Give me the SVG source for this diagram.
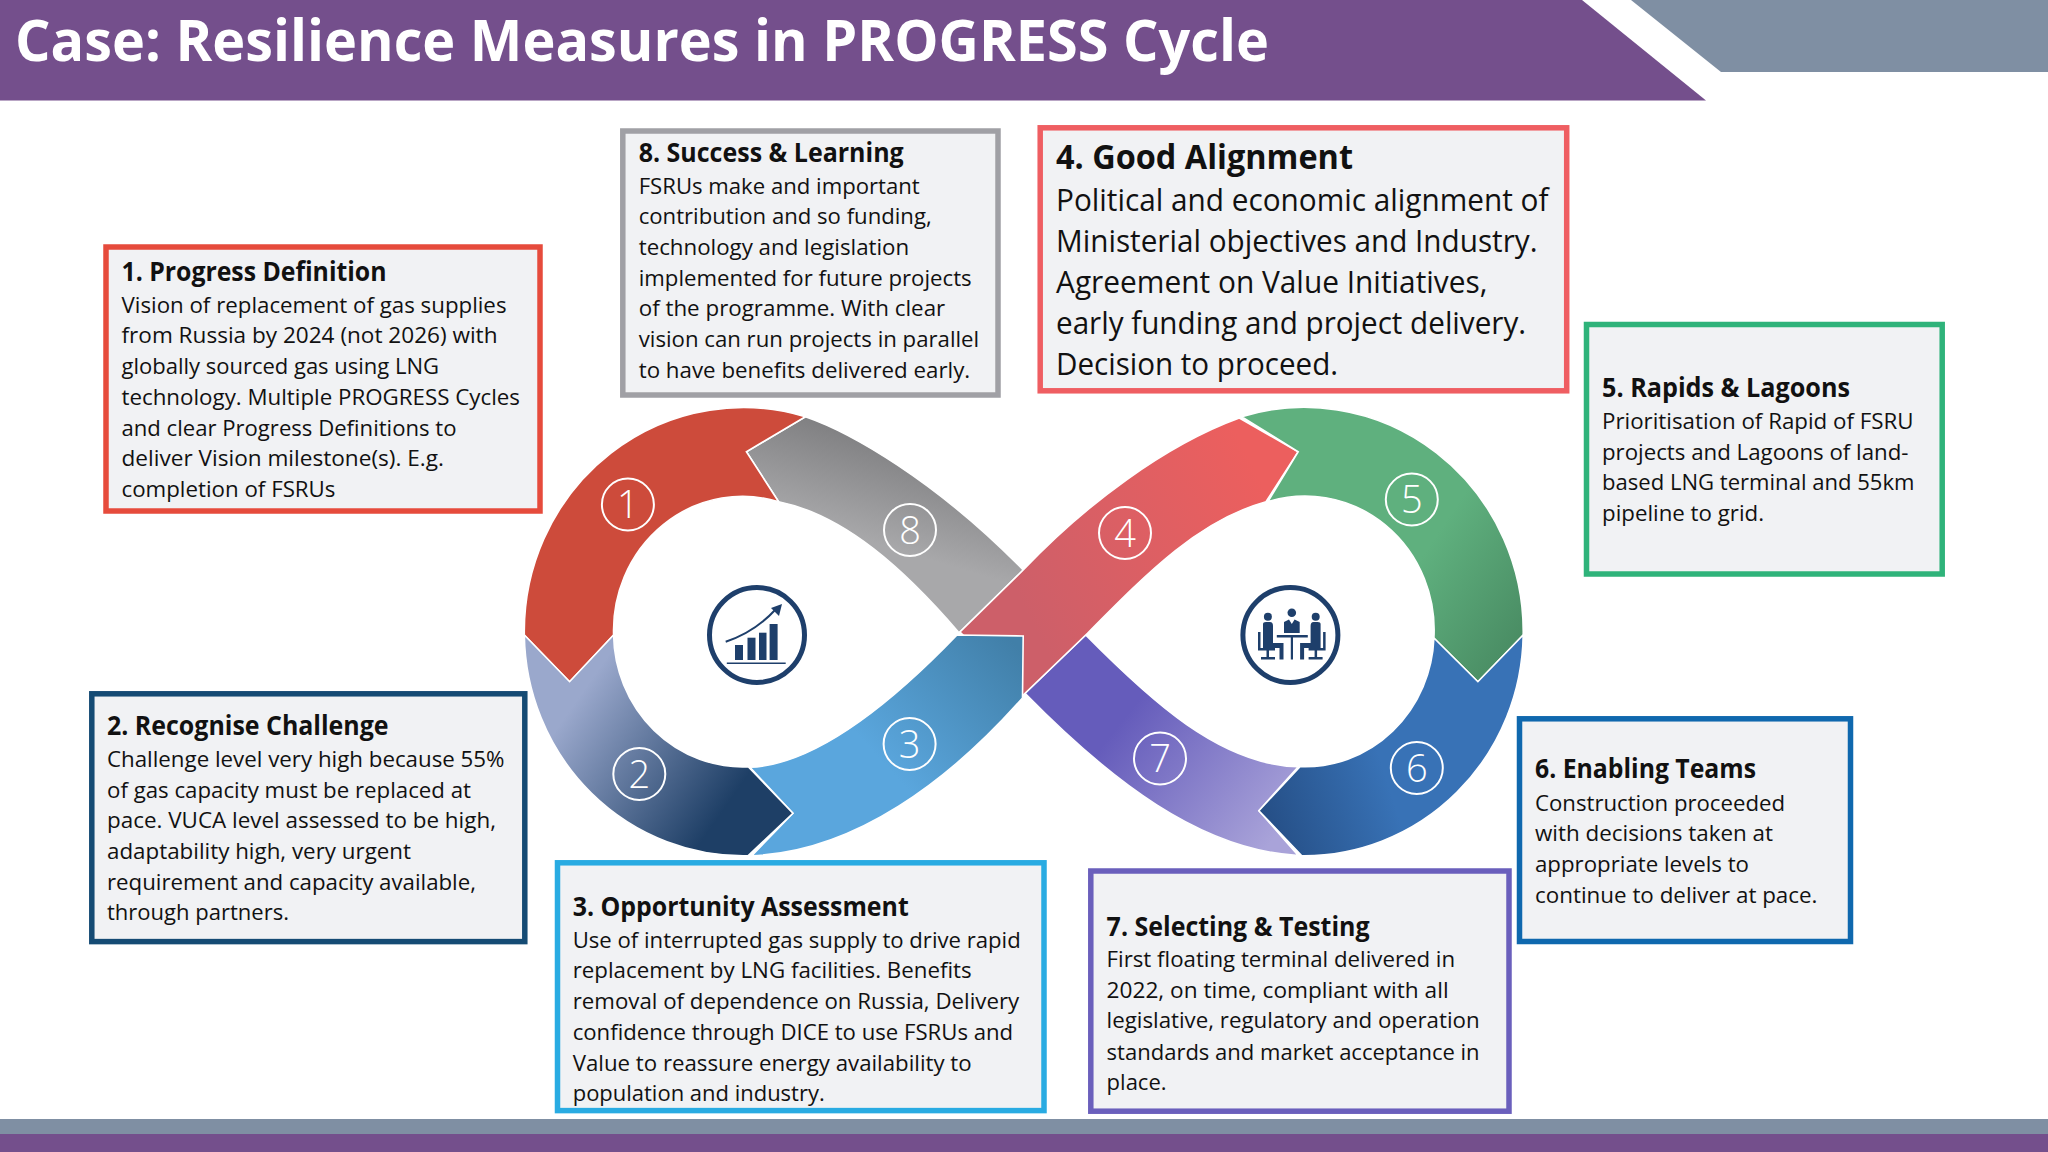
<svg xmlns="http://www.w3.org/2000/svg" xmlns:xlink="http://www.w3.org/1999/xlink" width="2048" height="1152" viewBox="0 0 2048 1152">
<style>
text{font-family:"Open Sans","Noto Sans","Liberation Sans",sans-serif;fill:#111}
.h{font-size:26.5px;font-weight:700}
.b{font-size:22px}
.hl{font-size:34px;font-weight:700}
.bl{font-size:30.5px}
.box{fill:#f1f2f4;stroke-width:5.5}
.seg{stroke:#fff;stroke-width:1.6;stroke-linejoin:miter}
.ring{fill:none;stroke:#fff;stroke-width:2}
.num{font-size:38px;font-weight:300;fill:#fff;text-anchor:middle}
.ic{fill:#1e3f6b}
.icl{fill:none;stroke:#1e3f6b}
</style>
<defs>
<linearGradient id="g8" gradientUnits="userSpaceOnUse" x1="860" y1="430" x2="830" y2="530"><stop offset="0" stop-color="#7f7f81"/><stop offset="1" stop-color="#a8a8aa"/></linearGradient>
<linearGradient id="g2" gradientUnits="userSpaceOnUse" x1="570" y1="710" x2="720" y2="815"><stop offset="0" stop-color="#9aa8cc"/><stop offset="1" stop-color="#1e3f66"/></linearGradient>
<linearGradient id="g3" gradientUnits="userSpaceOnUse" x1="890" y1="770" x2="1020" y2="650"><stop offset="0" stop-color="#5aa6dd"/><stop offset="1" stop-color="#417fa8"/></linearGradient>
<linearGradient id="g4" gradientUnits="userSpaceOnUse" x1="1020" y1="600" x2="1260" y2="480"><stop offset="0" stop-color="#cd5f69"/><stop offset="1" stop-color="#ec5f5e"/></linearGradient>
<linearGradient id="g5" gradientUnits="userSpaceOnUse" x1="1420" y1="560" x2="1525" y2="630"><stop offset="0" stop-color="#5fb07e"/><stop offset="1" stop-color="#4a8d64"/></linearGradient>
<linearGradient id="g6" gradientUnits="userSpaceOnUse" x1="1265" y1="830" x2="1390" y2="790"><stop offset="0" stop-color="#254e85"/><stop offset="1" stop-color="#3872b6"/></linearGradient>
<linearGradient id="g7" gradientUnits="userSpaceOnUse" x1="1115" y1="730" x2="1265" y2="850"><stop offset="0" stop-color="#655cbb"/><stop offset="1" stop-color="#a9a3d9"/></linearGradient>
</defs>
<rect width="2048" height="1152" fill="#fff"/>
<g id="header">
<polygon points="0,0 1582,0 1706,100.5 0,100.5" fill="#744f8c"/>
<polygon points="1631,0 2048,0 2048,72 1721,72" fill="#7f8fa3"/>
<text x="15" y="61" font-size="57" font-weight="700" style="fill:#fff" textLength="1254" lengthAdjust="spacingAndGlyphs">Case: Resilience Measures in PROGRESS Cycle</text>
</g>
<g id="footer">
<rect x="0" y="1119" width="2048" height="15" fill="#7f8fa3"/>
<rect x="0" y="1134" width="2048" height="18" fill="#744f8c"/>
</g>
<g id="cycle">
<path id="seg8" class="seg" fill="url(#g8)" d="M805.4,416.7C850,432 935,480 1023.2,570L959,632.7C905,570 845,515 778.6,501.7L746.4,451.7Z"/>
<path id="seg7" class="seg" fill="url(#g7)" d="M1025,693.3L1085.7,635C1150,700 1220,765 1298.2,766.7L1258.9,810.7L1298.2,855.5C1200,850 1110,780 1025,693.3Z"/>
<path id="seg4" class="seg" fill="url(#g4)" d="M960,632L1023.2,570C1085,505 1165,445 1239.3,418L1298.2,451.7L1266,501.7C1200,520 1150,570 1087.5,633.3L1023.2,695Z"/>
<path id="seg3" class="seg" fill="url(#g3)" d="M751.8,855.7L792.9,813.3L750,767.3C810,765 880,715 957,635L1023.2,636L1022.5,698C950,780 855,852 751.8,855.7Z"/>
<path id="seg1" class="seg" fill="#cd4b3b" d="M524.3,635A219,224 0 0 1 805.4,416.7L746.4,451.7L778.6,501.7A129,134 0 0 0 613.6,635L569.6,681.7Z"/>
<path id="seg2" class="seg" fill="url(#g2)" d="M524.3,635L569.6,681.7L613.6,635A129,134 0 0 0 748.2,766.7L792.9,813.3L748.2,855.7A219,224 0 0 1 524.3,635Z"/>
<path id="seg5" class="seg" fill="url(#g5)" d="M1241.6,416.7A219,224 0 0 1 1523.2,635L1477.9,681.7L1433.9,638A129,134 0 0 0 1267.9,501.7L1298.2,451.7Z"/>
<path id="seg6" class="seg" fill="url(#g6)" d="M1523.2,635A219,224 0 0 1 1301.8,855.7L1258.9,810.7L1300,766.7A129,134 0 0 0 1433.9,638L1477.9,681.7Z"/>
<circle class="ring" cx="627.9" cy="504.5" r="26"/><text class="num" x="627.9" y="518">1</text>
<circle class="ring" cx="639.3" cy="774" r="26"/><text class="num" x="639.3" y="787.5">2</text>
<circle class="ring" cx="909.6" cy="744" r="26"/><text class="num" x="909.6" y="757.5">3</text>
<circle class="ring" cx="1125" cy="533" r="26"/><text class="num" x="1125" y="546.5">4</text>
<circle class="ring" cx="1411.8" cy="499.5" r="26"/><text class="num" x="1411.8" y="513">5</text>
<circle class="ring" cx="1416.8" cy="768" r="26"/><text class="num" x="1416.8" y="781.5">6</text>
<circle class="ring" cx="1160" cy="758.5" r="26"/><text class="num" x="1160" y="772">7</text>
<circle class="ring" cx="910" cy="530" r="26"/><text class="num" x="910" y="543.5">8</text>
</g>
<g id="icon-chart">
<circle class="icl" cx="757" cy="635" r="47.5" stroke-width="5"/>
<rect class="ic" x="735" y="645" width="8" height="15"/>
<rect class="ic" x="747.5" y="637.7" width="8" height="22.3"/>
<rect class="ic" x="759" y="632.7" width="7.5" height="27.3"/>
<rect class="ic" x="769.6" y="624" width="8" height="36"/>
<path class="icl" stroke-width="1.5" d="M726.8,663.3H785.7"/>
<path class="icl" stroke-width="2" d="M725.7,641.7Q755,632 776,609"/>
<polygon class="ic" points="782,604 779,616 771,608"/>
</g>
<g id="icon-meeting">
<circle class="icl" cx="1290.4" cy="635" r="47.5" stroke-width="5"/>
<rect class="ic" x="1276.8" y="635" width="31" height="2.5"/>
<rect class="ic" x="1290.8" y="636" width="2.2" height="23.5"/>
<circle class="ic" cx="1291.8" cy="612.7" r="4.3"/>
<path class="ic" d="M1284,633V622L1289,619.5L1291.8,624L1294.6,619.5L1299.7,622V633Z"/>
<g id="sitter">
<circle class="ic" cx="1267.9" cy="616.7" r="4"/>
<path class="ic" d="M1263,624Q1263,622 1266,622H1270Q1273,622 1273,626V643H1283.5V659.5H1279.5V648H1263Z"/>
<path class="ic" d="M1258,632H1260.5V648H1275V650.5H1269V657H1275V659.5H1261V657H1266.5V650.5H1258Z"/>
</g>
<use xlink:href="#sitter" href="#sitter" transform="matrix(-1 0 0 1 2583.6 0)"/>
</g>
<g id="node1">
<rect class="box" stroke="#e64b3c" x="106" y="247" width="434" height="264"/>
<text class="h" x="121.5" y="280.5" textLength="265" lengthAdjust="spacingAndGlyphs">1. Progress Definition</text>
<text class="b" x="121.5" y="312.7" textLength="385" lengthAdjust="spacingAndGlyphs">Vision of replacement of gas supplies</text>
<text class="b" x="121.5" y="343.3" textLength="376" lengthAdjust="spacingAndGlyphs">from Russia by 2024 (not 2026) with</text>
<text class="b" x="121.5" y="374" textLength="317.5" lengthAdjust="spacingAndGlyphs">globally sourced gas using LNG</text>
<text class="b" x="121.5" y="405" textLength="398.5" lengthAdjust="spacingAndGlyphs">technology. Multiple PROGRESS Cycles</text>
<text class="b" x="121.5" y="435.7" textLength="335" lengthAdjust="spacingAndGlyphs">and clear Progress Definitions to</text>
<text class="b" x="121.5" y="466.3" textLength="322.5" lengthAdjust="spacingAndGlyphs">deliver Vision milestone(s). E.g.</text>
<text class="b" x="121.5" y="497" textLength="214" lengthAdjust="spacingAndGlyphs">completion of FSRUs</text>
</g>
<g id="node2">
<rect class="box" stroke="#154b74" x="91.8" y="693.8" width="433" height="247.8"/>
<text class="h" x="107" y="734.8" textLength="281.5" lengthAdjust="spacingAndGlyphs">2. Recognise Challenge</text>
<text class="b" x="107" y="767" textLength="397.5" lengthAdjust="spacingAndGlyphs">Challenge level very high because 55%</text>
<text class="b" x="107" y="797.7" textLength="364" lengthAdjust="spacingAndGlyphs">of gas capacity must be replaced at</text>
<text class="b" x="107" y="828.4" textLength="389" lengthAdjust="spacingAndGlyphs">pace. VUCA level assessed to be high,</text>
<text class="b" x="107" y="859" textLength="304" lengthAdjust="spacingAndGlyphs">adaptability high, very urgent</text>
<text class="b" x="107" y="889.7" textLength="369" lengthAdjust="spacingAndGlyphs">requirement and capacity available,</text>
<text class="b" x="107" y="920.4" textLength="182" lengthAdjust="spacingAndGlyphs">through partners.</text>
</g>
<g id="node3">
<rect class="box" stroke="#29abe2" x="557.5" y="862.8" width="486.5" height="247.8"/>
<text class="h" x="572.7" y="915.7" textLength="336" lengthAdjust="spacingAndGlyphs">3. Opportunity Assessment</text>
<text class="b" x="572.7" y="947.7" textLength="448" lengthAdjust="spacingAndGlyphs">Use of interrupted gas supply to drive rapid</text>
<text class="b" x="572.7" y="978.3" textLength="399" lengthAdjust="spacingAndGlyphs">replacement by LNG facilities. Benefits</text>
<text class="b" x="572.7" y="1009.3" textLength="446.5" lengthAdjust="spacingAndGlyphs">removal of dependence on Russia, Delivery</text>
<text class="b" x="572.7" y="1040" textLength="440.5" lengthAdjust="spacingAndGlyphs">confidence through DICE to use FSRUs and</text>
<text class="b" x="572.7" y="1070.7" textLength="399" lengthAdjust="spacingAndGlyphs">Value to reassure energy availability to</text>
<text class="b" x="572.7" y="1101.3" textLength="252" lengthAdjust="spacingAndGlyphs">population and industry.</text>
</g>
<g id="node4">
<rect class="box" stroke="#ef5e62" x="1040.2" y="127.8" width="526.5" height="263"/>
<text class="hl" x="1056" y="169" textLength="297" lengthAdjust="spacingAndGlyphs">4. Good Alignment</text>
<text class="bl" x="1056" y="211" textLength="492.5" lengthAdjust="spacingAndGlyphs">Political and economic alignment of</text>
<text class="bl" x="1056" y="252" textLength="481.5" lengthAdjust="spacingAndGlyphs">Ministerial objectives and Industry.</text>
<text class="bl" x="1056" y="293" textLength="431.5" lengthAdjust="spacingAndGlyphs">Agreement on Value Initiatives,</text>
<text class="bl" x="1056" y="334" textLength="470" lengthAdjust="spacingAndGlyphs">early funding and project delivery.</text>
<text class="bl" x="1056" y="375" textLength="282" lengthAdjust="spacingAndGlyphs">Decision to proceed.</text>
</g>
<g id="node5">
<rect class="box" stroke="#2fb37a" x="1586.5" y="324.5" width="355.7" height="249.5"/>
<text class="h" x="1602" y="397.3" textLength="248" lengthAdjust="spacingAndGlyphs">5. Rapids &amp; Lagoons</text>
<text class="b" x="1602" y="429" textLength="311.5" lengthAdjust="spacingAndGlyphs">Prioritisation of Rapid of FSRU</text>
<text class="b" x="1602" y="459.7" textLength="306.5" lengthAdjust="spacingAndGlyphs">projects and Lagoons of land-</text>
<text class="b" x="1602" y="490.4" textLength="312.5" lengthAdjust="spacingAndGlyphs">based LNG terminal and 55km</text>
<text class="b" x="1602" y="521" textLength="162" lengthAdjust="spacingAndGlyphs">pipeline to grid.</text>
</g>
<g id="node6">
<rect class="box" stroke="#0f68ae" x="1519.5" y="718.8" width="331" height="222.7"/>
<text class="h" x="1535" y="778.3" textLength="221" lengthAdjust="spacingAndGlyphs">6. Enabling Teams</text>
<text class="b" x="1535" y="810.7" textLength="250" lengthAdjust="spacingAndGlyphs">Construction proceeded</text>
<text class="b" x="1535" y="841.4" textLength="238" lengthAdjust="spacingAndGlyphs">with decisions taken at</text>
<text class="b" x="1535" y="872" textLength="214" lengthAdjust="spacingAndGlyphs">appropriate levels to</text>
<text class="b" x="1535" y="903" textLength="282.5" lengthAdjust="spacingAndGlyphs">continue to deliver at pace.</text>
</g>
<g id="node7">
<rect class="box" stroke="#6a5fbc" x="1090.8" y="871" width="418.2" height="240.2"/>
<text class="h" x="1106.6" y="935.5" textLength="263" lengthAdjust="spacingAndGlyphs">7. Selecting &amp; Testing</text>
<text class="b" x="1106.6" y="967" textLength="348.5" lengthAdjust="spacingAndGlyphs">First floating terminal delivered in</text>
<text class="b" x="1106.6" y="997.7" textLength="342" lengthAdjust="spacingAndGlyphs">2022, on time, compliant with all</text>
<text class="b" x="1106.6" y="1028.4" textLength="373" lengthAdjust="spacingAndGlyphs">legislative, regulatory and operation</text>
<text class="b" x="1106.6" y="1059.5" textLength="373" lengthAdjust="spacingAndGlyphs">standards and market acceptance in</text>
<text class="b" x="1106.6" y="1090.2" textLength="60" lengthAdjust="spacingAndGlyphs">place.</text>
</g>
<g id="node8">
<rect class="box" stroke="#a0a0a5" x="622.8" y="131" width="375.2" height="264"/>
<text class="h" x="638.7" y="161.7" textLength="265" lengthAdjust="spacingAndGlyphs">8. Success &amp; Learning</text>
<text class="b" x="638.7" y="193.5" textLength="281" lengthAdjust="spacingAndGlyphs">FSRUs make and important</text>
<text class="b" x="638.7" y="224.2" textLength="293" lengthAdjust="spacingAndGlyphs">contribution and so funding,</text>
<text class="b" x="638.7" y="254.9" textLength="270.5" lengthAdjust="spacingAndGlyphs">technology and legislation</text>
<text class="b" x="638.7" y="285.7" textLength="333" lengthAdjust="spacingAndGlyphs">implemented for future projects</text>
<text class="b" x="638.7" y="316.4" textLength="306.5" lengthAdjust="spacingAndGlyphs">of the programme. With clear</text>
<text class="b" x="638.7" y="347.2" textLength="340.5" lengthAdjust="spacingAndGlyphs">vision can run projects in parallel</text>
<text class="b" x="638.7" y="378" textLength="331.5" lengthAdjust="spacingAndGlyphs">to have benefits delivered early.</text>
</g>
</svg>
